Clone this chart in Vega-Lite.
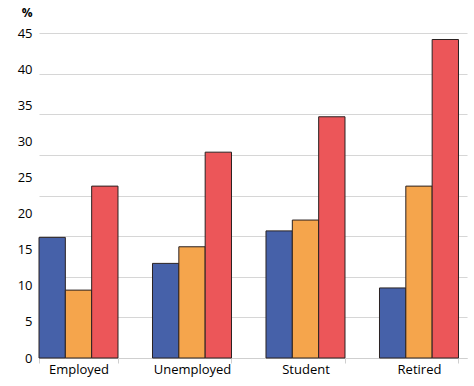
{
  "$schema": "https://vega.github.io/schema/vega-lite/v6.json",
  "width": 428,
  "height": 325,
  "autosize": {"type": "none"},
  "padding": {"left": 39, "top": 33, "right": 7, "bottom": 28},
  "config": {
    "font": "Open Sans",
    "view": {"stroke": null},
    "axis": {"labelFont": "Open Sans", "titleFont": "Open Sans", "labelColor": "#000", "titleColor": "#000"}
  },
  "data": {
    "values": [
      {"status": "Employed", "series": "A", "value": 16.7},
      {"status": "Employed", "series": "B", "value": 9.4},
      {"status": "Employed", "series": "C", "value": 23.8},
      {"status": "Unemployed", "series": "A", "value": 13.1},
      {"status": "Unemployed", "series": "B", "value": 15.4},
      {"status": "Unemployed", "series": "C", "value": 28.5},
      {"status": "Student", "series": "A", "value": 17.6},
      {"status": "Student", "series": "B", "value": 19.1},
      {"status": "Student", "series": "C", "value": 33.4},
      {"status": "Retired", "series": "A", "value": 9.7},
      {"status": "Retired", "series": "B", "value": 23.8},
      {"status": "Retired", "series": "C", "value": 44.1}
    ]
  },
  "encoding": {
    "x": {
      "field": "status", "type": "nominal", "sort": null,
      "scale": {"paddingInner": 0.304, "paddingOuter": 0.0375, "align": 0},
      "axis": {"title": null, "labelAngle": 0, "labelFontSize": 13, "labelPadding": 0, "tickBand": "extent", "tickSize": 5, "tickColor": "#cfcfcf", "domainColor": "#cfcfcf", "grid": false}
    },
    "xOffset": {"field": "series", "type": "nominal", "scale": {"paddingInner": 0, "paddingOuter": 0}},
    "color": {
      "field": "series", "type": "nominal",
      "scale": {"domain": ["A", "B", "C"], "range": ["#4661a9", "#f5a54c", "#ec5659"]},
      "legend": null
    }
  },
  "layer": [
    {
      "mark": {"type": "bar", "stroke": "#2a2222", "strokeWidth": 1},
      "encoding": {
        "y": {
          "field": "value", "type": "quantitative",
          "scale": {"domain": [0, 45], "nice": false},
          "axis": {"orient": "left", "values": [0, 5, 10, 15, 20, 25, 30, 35, 40, 45], "grid": false, "ticks": false, "domain": false, "labelFontSize": 13, "labelPadding": 7, "title": "%", "titleAngle": 0, "titleAlign": "right", "titleBaseline": "middle", "titleX": -7, "titleY": -21, "titleFontSize": 12, "titleFontWeight": "bold"}
        }
      }
    },
    {
      "mark": {"type": "bar", "opacity": 0},
      "encoding": {
        "y": {
          "field": "value", "type": "quantitative",
          "axis": {"orient": "right", "values": [0, 5.625, 11.25, 16.875, 22.5, 28.125, 33.75, 39.375, 45], "grid": true, "gridColor": "#d6d6d6", "gridWidth": 1.2, "labels": false, "ticks": false, "domain": false, "title": null}
        }
      }
    }
  ],
  "resolve": {"axis": {"y": "independent"}}
}
